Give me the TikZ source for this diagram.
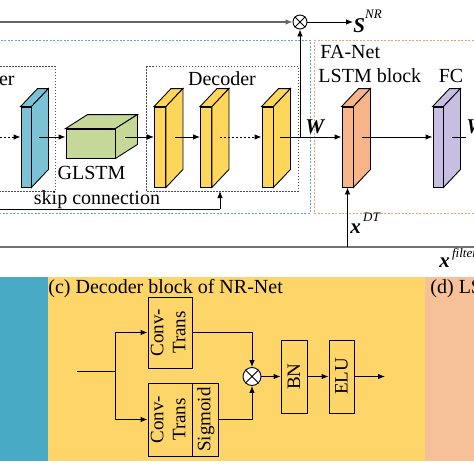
\documentclass[tikz,border=0pt]{standalone}
\usepackage{fontspec}
\setmainfont{Liberation Serif}
\usetikzlibrary{arrows.meta,calc}
\definecolor{encblue}{RGB}{124,194,214}
\definecolor{lstmgreen}{RGB}{198,216,152}
\definecolor{decyellow}{RGB}{255,214,92}
\definecolor{faorange}{RGB}{246,180,136}
\definecolor{fcpurple}{RGB}{200,190,226}
\definecolor{nrblue}{RGB}{96,166,212}
\definecolor{faline}{RGB}{234,160,112}
\definecolor{panelblue}{RGB}{72,170,196}
\definecolor{panelyellow}{RGB}{254,213,104}
\definecolor{panelpeach}{RGB}{246,192,152}
% top and side face of a slab
\newcommand{\slabfaces}[2]{%
  \filldraw[fill=#2] (#1.north west) -- ++(17,-18) -- ($(#1.north east)+(17,-18)$) -- (#1.north east) -- cycle;
  \filldraw[fill=#2] (#1.north east) -- ++(17,-18) -- ($(#1.south east)+(17,-18)$) -- (#1.south east) -- cycle;
}
\begin{document}
\begin{tikzpicture}[x=1pt,y=-1pt,line width=0.9pt,>={Latex[length=7pt,width=5.5pt]},
  slab/.style={draw,minimum width=11pt,minimum height=80pt,inner sep=0pt},
  lbl/.style={inner sep=0pt,font=\fontsize{20}{22}\selectfont},
  var/.style={inner sep=0pt,font=\fontsize{21}{22}\selectfont\bfseries\itshape},
  cbox/.style={draw,inner sep=0pt,font=\fontsize{19}{22}\selectfont},
  mulnode/.style={draw,circle,fill=white,inner sep=0pt},
  frame/.style={draw=black!55,line width=1.5pt},
  blockbox/.style={draw=black!70,dash pattern=on 1.5pt off 1.5pt,line width=0.8pt}]
\path[fill=white,use as bounding box] (0,0) rectangle (474,474);

% NR-Net and FA-Net frames
\draw[draw=nrblue,dash pattern=on 2pt off 1.5pt,line width=0.7pt] (-10,40) -- (310,40) -- (310,213) -- (-10,213);
\draw[draw=faline,dash pattern=on 2pt off 1.5pt,line width=0.7pt] (484,40) -- (314,40) -- (314,213) -- (484,213);
\draw[blockbox] (-20,66) rectangle (55,191);
\draw[blockbox] (146,66) rectangle (298,191);
\node[lbl,anchor=base east] (enclbl) at (15,85) {Encoder};
\node[lbl,anchor=base] (declbl) at (222,85) {Decoder};
\node[lbl,anchor=base west] (falbl) at (320,58) {FA-Net};
\node[lbl,anchor=base west] (lstmlbl) at (318,82) {LSTM block};
\node[lbl,anchor=base] (fclbl) at (451,82) {FC};

% slabs
\node[slab,fill=encblue,minimum width=10pt] (enc) at (26,147) {};
\slabfaces{enc}{encblue}
\node[slab,fill=decyellow] (dec1) at (160,147) {};
\slabfaces{dec1}{decyellow}
\node[slab,fill=decyellow] (dec2) at (206,147) {};
\slabfaces{dec2}{decyellow}
\node[slab,fill=decyellow] (dec3) at (267.5,147) {};
\slabfaces{dec3}{decyellow}
\node[slab,fill=faorange] (fa) at (347.5,147) {};
\slabfaces{fa}{faorange}
\node[slab,fill=fcpurple,minimum width=10pt] (fc) at (438,147) {};
\slabfaces{fc}{fcpurple}

% GLSTM block
\node[draw,fill=lstmgreen,minimum width=49pt,minimum height=29pt,inner sep=0pt] (glstm) at (90.5,143.5) {};
\filldraw[fill=lstmgreen] (glstm.north west) -- ++(22,-14) -- ($(glstm.north east)+(22,-14)$) -- (glstm.north east) -- cycle;
\filldraw[fill=lstmgreen] (glstm.north east) -- ++(22,-14) -- ($(glstm.south east)+(22,-14)$) -- (glstm.south east) -- cycle;
\node[lbl,anchor=base] (glstmlbl) at (91.5,179) {GLSTM};

% main flow
\coordinate (inL) at (0,137);
\draw[->,dash pattern=on 2pt off 2pt] (inL) -- (enc.west |- inL);
\draw[->] ($(enc.east |- inL)+(8,0)$) -- (glstm.west |- inL);
\draw[->] ($(glstm.east |- inL)+(10,0)$) -- (dec1.west |- inL);
\draw[->] ($(dec1.east |- inL)+(9,0)$) -- (dec2.west |- inL);
\draw[->,dash pattern=on 2pt off 2pt] ($(dec2.east |- inL)+(8,0)$) -- (dec3.west |- inL);
\draw[->] ($(dec3.east |- inL)+(7,0)$) -- (fa.west |- inL);
\draw[->] ($(fa.east |- inL)+(9,0)$) -- (fc.west |- inL);
\coordinate (wout) at (466,137);
\draw ($(fc.east |- inL)+(9,0)$) -- (wout);
\node[var,anchor=base west] (wlbl) at (305,133) {W};
\node[var,anchor=base west] (wright) at (466,133) {W};

% mask branch
\node[mulnode,minimum size=14pt] (mul) at (300,22) {};
\draw (mul.45) -- (mul.225) (mul.135) -- (mul.315);
\coordinate (topL) at (0,22);
\coordinate (jn) at (300,137);
\draw[draw=black!60,line width=1.2pt,->] (topL) -- (mul.west);
\draw[->] (jn) -- (mul.south);
\node[var,anchor=base west] (snr) at (353,32) {S\raisebox{14pt}{\fontsize{13}{13}\selectfont\mdseries NR}};
\draw[->] (mul.east) -- (mul.east -| snr.west);

% skip connection
\coordinate (skipL) at (0,209);
\coordinate (skipc) at (220,209);
\coordinate (decbot) at (220,191);
\draw (skipL) -- (skipc);
\draw[->] (skipc) -- (decbot);
\node[lbl,anchor=base] (skiplbl) at (97,204) {skip connection};

% filtered input
\coordinate (botL) at (0,247);
\coordinate (botR) at (474,247);
\draw[frame] (botL) -- (botR);
\coordinate (xdt) at (fa.south |- botL);
\draw[->] (xdt) -- (fa.south);
\node[var,anchor=base west] (xdtlbl) at (350,233) {x\raisebox{12pt}{\fontsize{13}{13}\selectfont\mdseries\,DT}};
\node[var,anchor=base west] (xflt) at (439,267) {x\raisebox{10pt}{\fontsize{13}{13}\selectfont\mdseries\,filter}};

% panels
\fill[panelblue] (-5,277) rectangle (48,461);
\fill[panelyellow] (48,277) rectangle (425,461);
\fill[panelpeach] (425,277) rectangle (480,461);
\node[lbl,anchor=base west] (ctitle) at (48,293) {(c) Decoder block of NR-Net};
\node[lbl,anchor=base west] (dtitle) at (430,293) {(d) LSTM block of FA-Net};

% decoder block
\node[cbox,minimum width=44pt,minimum height=71pt] (ct1) at (170,332.5) {\rotatebox{90}{\begin{tabular}{@{}c@{}}Conv-\\Trans\end{tabular}}};
\node[cbox,minimum width=44pt,minimum height=73pt] (ct2) at (170,419.5) {\rotatebox{90}{\begin{tabular}{@{}c@{}}Conv-\\Trans\end{tabular}}};
\node[cbox,minimum width=26pt,minimum height=73pt,anchor=west] (sig) at (ct2.east) {\rotatebox{90}{Sigmoid}};
\node[mulnode,minimum size=18pt] (mul2) at (252,376.5) {};
\draw (mul2.45) -- (mul2.225) (mul2.135) -- (mul2.315);
\node[cbox,minimum width=26pt,minimum height=73pt] (bn) at (294,376.5) {\rotatebox{90}{BN}};
\node[cbox,minimum width=25pt,minimum height=73pt] (elu) at (341.5,376.5) {\rotatebox{90}{ELU}};
\coordinate (cin) at (77,371);
\coordinate (cbr) at (115,371);
\coordinate (cout) at (385,376.5);
\draw (cin) -- (cbr);
\draw[->] (cbr) |- (ct1.west);
\draw[->] (cbr) |- (ct2.west);
\draw[->] (ct1.east) -| (mul2.north);
\draw[->] (sig.east) -| (mul2.south);
\draw[->] (mul2) -- (bn);
\draw[->] (bn) -- (elu);
\draw[->] (elu) -- (cout);
\end{tikzpicture}
\end{document}
